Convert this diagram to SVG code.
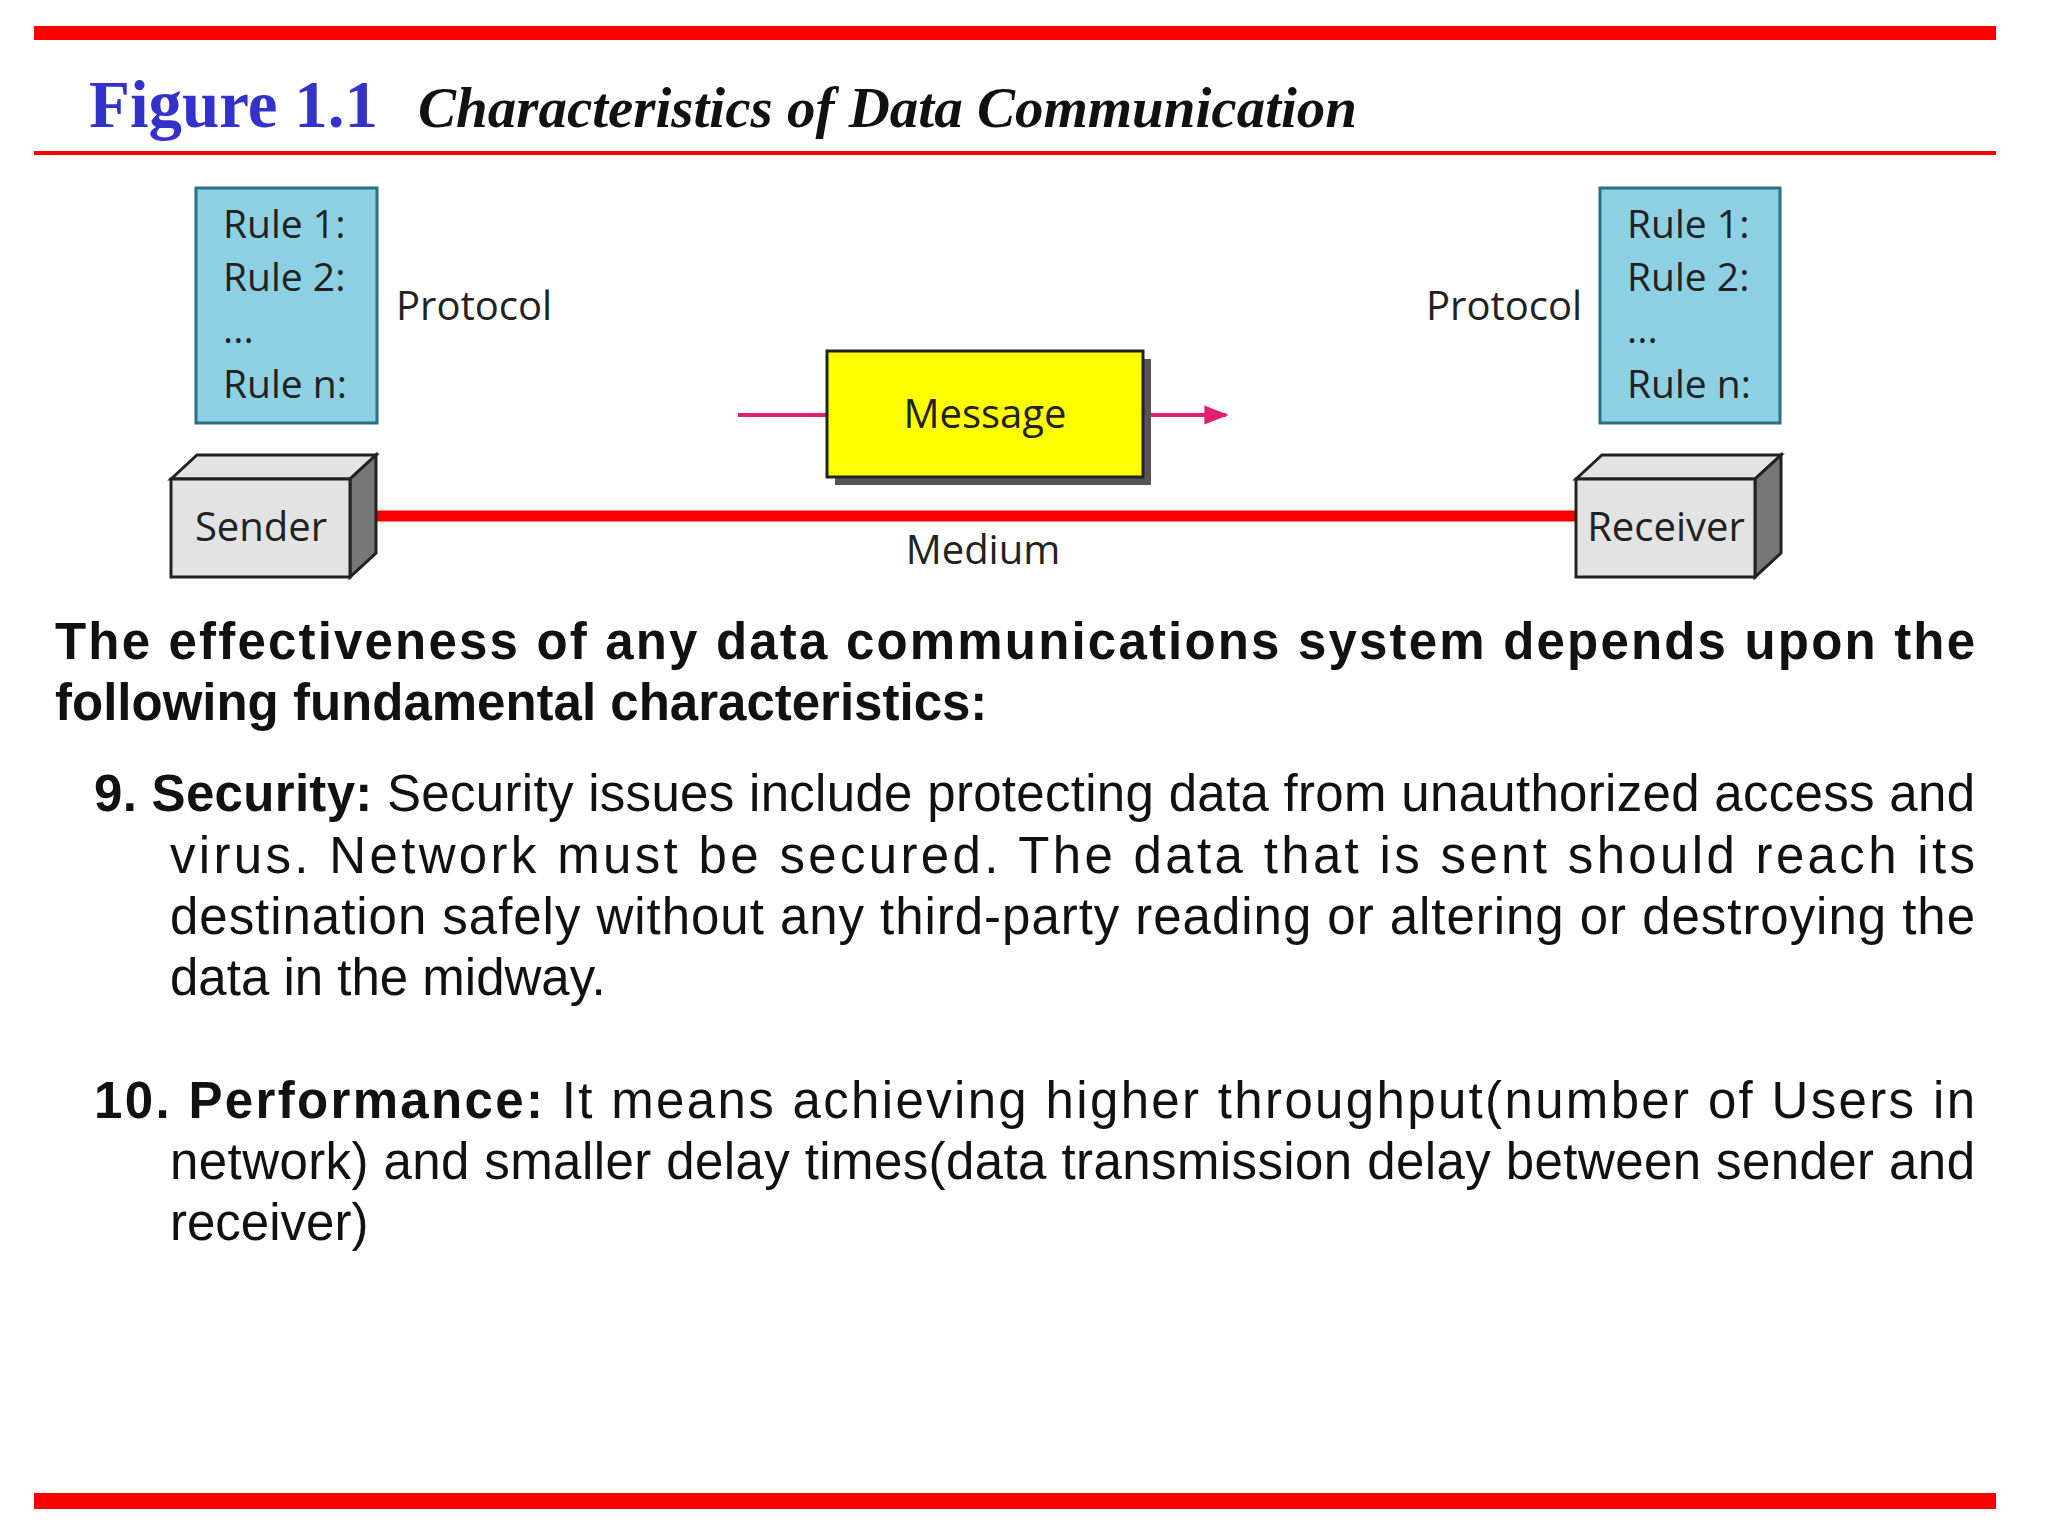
<svg xmlns="http://www.w3.org/2000/svg" width="2048" height="1536" viewBox="0 0 2048 1536">
<style>
.rule{font-family:"Open Sans","DejaVu Sans",sans-serif;font-size:39px;fill:#222}
.lbl{font-family:"Open Sans","DejaVu Sans",sans-serif;font-size:40px;fill:#222}
.body{font-family:"Liberation Sans",Arial,sans-serif;font-size:51px;fill:#111}
.b{font-weight:bold}
.box{fill:#8dd0e4;stroke:#2a6f85;stroke-width:3}
.dev{fill:#e3e3e3;stroke:#222;stroke-width:3}
</style>
<defs>
<marker id="ah" viewBox="0 0 10 10" refX="9" refY="5" markerWidth="6" markerHeight="6" orient="auto"><path d="M0,1 L10,5 L0,9 Z" fill="#e0206e"/></marker>
</defs>
<rect width="2048" height="1536" fill="#fff"/>
<rect x="34" y="26" width="1962" height="14" fill="#f00"/>
<rect x="34" y="151" width="1962" height="4" fill="#f00"/>
<rect x="34" y="1493" width="1962" height="16" fill="#f00"/>
<text x="89" y="127" font-family="Liberation Serif,serif" font-size="67" font-weight="bold" fill="#3333cc">Figure 1.1</text>
<text x="418" y="127" font-family="Liberation Serif,serif" font-size="57" font-weight="bold" font-style="italic" fill="#111">Characteristics of Data Communication</text>

<g id="protocol-left">
<rect class="box" x="196" y="188" width="181" height="235"/>
<text class="rule" x="223" y="238">Rule 1:</text>
<text class="rule" x="223" y="291">Rule 2:</text>
<text class="rule" x="223" y="343">...</text>
<text class="rule" x="223" y="398">Rule n:</text>
<text class="lbl" x="396" y="320">Protocol</text>
</g>
<g id="protocol-right">
<rect class="box" x="1600" y="188" width="180" height="235"/>
<text class="rule" x="1627" y="238">Rule 1:</text>
<text class="rule" x="1627" y="291">Rule 2:</text>
<text class="rule" x="1627" y="343">...</text>
<text class="rule" x="1627" y="398">Rule n:</text>
<text class="lbl" x="1426" y="320">Protocol</text>
</g>
<g id="connectors">
<line x1="366" y1="516" x2="1576" y2="516" stroke="#f00" stroke-width="11"/>
<line x1="738" y1="415" x2="827" y2="415" stroke="#e0206e" stroke-width="4"/>
<line x1="1143" y1="415" x2="1226" y2="415" stroke="#e0206e" stroke-width="4" marker-end="url(#ah)"/>
</g>
<g id="message">
<rect x="835" y="359" width="316" height="126" fill="#555"/>
<rect x="827" y="351" width="316" height="126" fill="#ffff00" stroke="#222" stroke-width="3"/>
<text class="lbl" x="985" y="428" text-anchor="middle">Message</text>
</g>
<g id="sender">
<polygon class="dev" points="171,479 197,455 376,455 350,479"/>
<polygon points="350,479 376,455 376,553 350,577" fill="#777" stroke="#222" stroke-width="3"/>
<rect class="dev" x="171" y="479" width="179" height="98"/>
<text class="lbl" x="261" y="541" text-anchor="middle">Sender</text>
</g>
<g id="receiver">
<polygon class="dev" points="1576,479 1602,455 1781,455 1755,479"/>
<polygon points="1755,479 1781,455 1781,553 1755,577" fill="#777" stroke="#222" stroke-width="3"/>
<rect class="dev" x="1576" y="479" width="179" height="98"/>
<text class="lbl" x="1666" y="541" text-anchor="middle">Receiver</text>
</g>
<text class="lbl" x="983" y="564" text-anchor="middle">Medium</text>

<text class="body b" x="55" y="659" textLength="1920" lengthAdjust="spacing">The effectiveness of any data communications system depends upon the</text>
<text class="body b" x="55" y="720">following fundamental characteristics:</text>
<text class="body" x="94" y="811" textLength="1881" lengthAdjust="spacing"><tspan class="b">9. Security:</tspan> Security issues include protecting data from unauthorized access and</text>
<text class="body" x="170" y="873" textLength="1805" lengthAdjust="spacing">virus. Network must be secured. The data that is sent should reach its</text>
<text class="body" x="170" y="934" textLength="1805" lengthAdjust="spacing">destination safely without any third-party reading or altering or destroying the</text>
<text class="body" x="170" y="995">data in the midway.</text>
<text class="body" x="94" y="1118" textLength="1881" lengthAdjust="spacing"><tspan class="b">10. Performance:</tspan> It means achieving higher throughput(number of Users in</text>
<text class="body" x="170" y="1179" textLength="1805" lengthAdjust="spacing">network) and smaller delay times(data transmission delay between sender and</text>
<text class="body" x="170" y="1240">receiver)</text>
</svg>
